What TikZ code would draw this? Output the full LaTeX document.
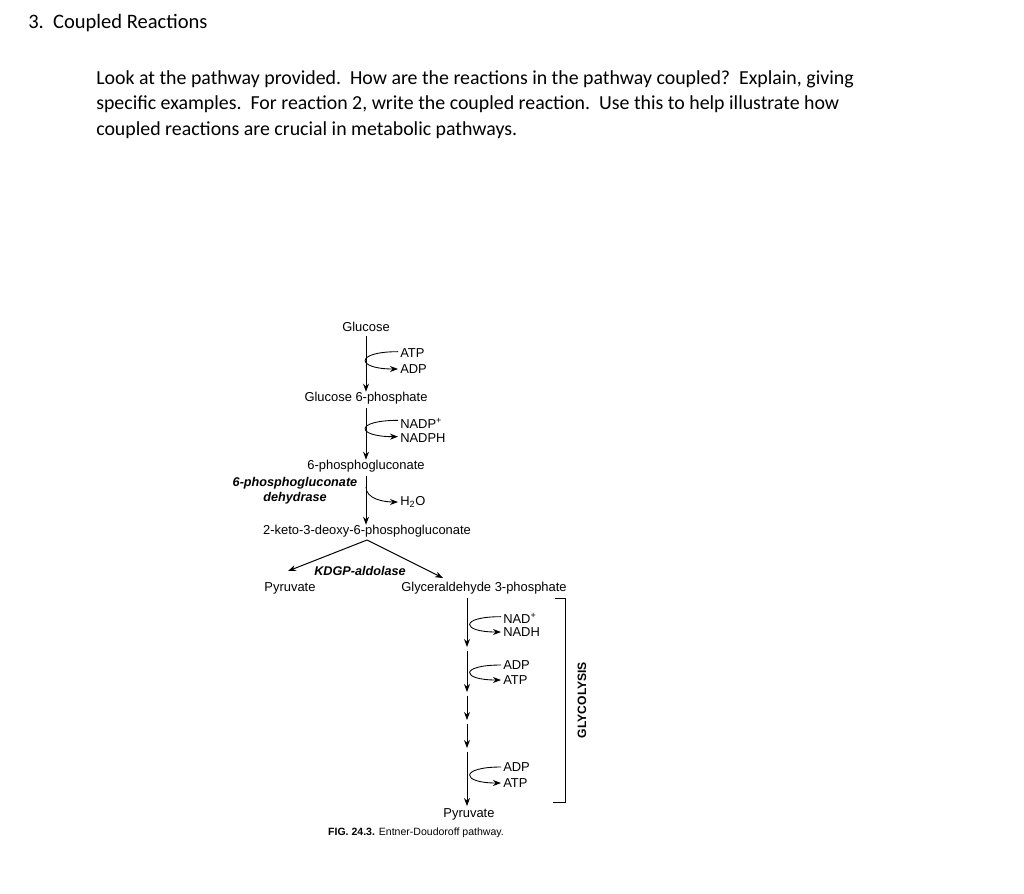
\documentclass[tikz,border=0pt]{standalone}
\usepackage{fontspec}
\setmainfont{Carlito}
\newfontfamily\figfont{Liberation Sans}
\usetikzlibrary{arrows.meta}

\begin{document}
\begin{tikzpicture}[x=0.75pt, y=-0.75pt,
    >={Stealth[length=6pt,width=4.5pt]},
    para/.style={anchor=west, inner sep=0pt, font=\fontsize{14.9}{17}\selectfont},
    chem/.style={inner sep=0pt, font=\figfont\fontsize{9.7}{11}\selectfont},
    cofac/.style={chem, anchor=west, inner sep=1.5pt},
    enz/.style={inner sep=0pt, align=center, font=\figfont\fontsize{9.5}{11.5}\selectfont\bfseries\itshape},
    rstep/.style={->, line width=0.75pt},
    couple/.style={->, line width=0.65pt}]
  \useasboundingbox (0,0) rectangle (1024,893);

  % Question text
  \node[para, font=\fontsize{15.4}{17}\selectfont] (title) at (28,23) {3.\ \ Coupled Reactions};
  \node[para] (q1) at (96,79) {Look at the pathway provided.\ \ How are the reactions in the pathway coupled?\ \ Explain, giving};
  \node[para] (q2) at (96,104) {specific examples.\ \ For reaction 2, write the coupled reaction.\ \ Use this to help illustrate how};
  \node[para] (q3) at (96,130) {coupled reactions are crucial in metabolic pathways.};

  % Define intermediates
  \node[chem] (glc) at (366,327) {Glucose};
  \node[chem] (g6p) at (366,398) {Glucose 6-phosphate};
  \node[chem] (pg) at (366,466) {6-phosphogluconate};
  \node[chem] (kdpg) at (367,531) {2-keto-3-deoxy-6-phosphogluconate};
  \node[chem] (pyr1) at (290,588) {Pyruvate};
  \node[chem] (gap) at (484,588) {Glyceraldehyde 3-phosphate};
  \node[chem] (pyr2) at (469,814) {Pyruvate};

  % Cofactors and enzymes
  \node[cofac] (atp1) at (398,353) {ATP};
  \node[cofac] (adp1) at (398,369) {ADP};
  \node[cofac] (nadp) at (398,423) {NADP\textsuperscript{+}};
  \node[cofac] (nadph) at (398,438) {NADPH};
  \node[cofac] (water) at (398,502) {H\textsubscript{2}O};
  \node[enz] (dehyd) at (295,491) {6-phosphogluconate\\dehydrase};
  \node[enz] (aldol) at (360,571) {KDGP-aldolase};
  \node[cofac] (nad) at (501,618) {NAD\textsuperscript{+}};
  \node[cofac] (nadh) at (501,632) {NADH};
  \node[cofac] (adp2) at (501,665) {ADP};
  \node[cofac] (atp2) at (501,680) {ATP};
  \node[cofac] (adp3) at (501,767) {ADP};
  \node[cofac] (atp3) at (501,783) {ATP};

  % Draw upper pathway
  \draw[rstep, shorten <=3pt] (glc.south) -- (g6p.north);
  \draw[rstep, shorten <=3pt] (g6p.south) -- (pg.north);
  \draw[rstep, shorten <=3pt] (pg.south) -- (pg.south |- kdpg.north);
  \draw[couple] ([yshift=1pt]atp1.west) .. controls +(-44,0) and +(-42,0) .. (adp1.west);
  \draw[couple] ([yshift=2pt]nadp.west) .. controls +(-44,0) and +(-42,0) .. ([yshift=1pt]nadph.west);
  \coordinate (dh) at (366,487);
  \draw[couple] (dh) .. controls +(0,12) and +(-14,0) .. (water.west);

  % Split by the aldolase
  \coordinate (split) at (367,540);
  \coordinate (pyrin) at (288,571);
  \coordinate (gapin) at (443,578);
  \draw[rstep] (split) -- (pyrin);
  \draw[rstep] (split) -- (gapin);

  % Draw glycolysis steps
  \coordinate (s0) at (467,598);
  \coordinate (s1) at (467,647);
  \coordinate (s2) at (467,692);
  \coordinate (s3) at (467,720);
  \coordinate (s4) at (467,748);
  \coordinate (s5) at (467,806);
  \draw[rstep] (s0) -- (s1);
  \draw[rstep, shorten <=3pt] (s1) -- (s2);
  \draw[rstep, shorten <=3pt] (s2) -- (s3);
  \draw[rstep, shorten <=3pt] (s3) -- (s4);
  \draw[rstep, shorten <=3pt] (s4) -- (s5);
  \draw[couple] ([yshift=1pt]nad.west) .. controls +(-42,0) and +(-40,0) .. (nadh.west);
  \draw[couple] (adp2.west) .. controls +(-42,0) and +(-40,0) .. (atp2.west);
  \draw[couple] (adp3.west) .. controls +(-42,0) and +(-40,0) .. (atp3.west);

  % Bracket
  \draw[line width=0.75pt] (555,598) -- (565,598) -- (565,802) -- (553,802);
  \node[chem, font=\figfont\fontsize{9.1}{10}\selectfont\bfseries, rotate=90] (glyc) at (582,700) {GLYCOLYSIS};

  % Caption
  \node[chem, font=\figfont\fontsize{7.9}{10}\selectfont] (cap) at (416,833) {\textbf{FIG. 24.3.} Entner-Doudoroff pathway.};
\end{tikzpicture}
\end{document}
